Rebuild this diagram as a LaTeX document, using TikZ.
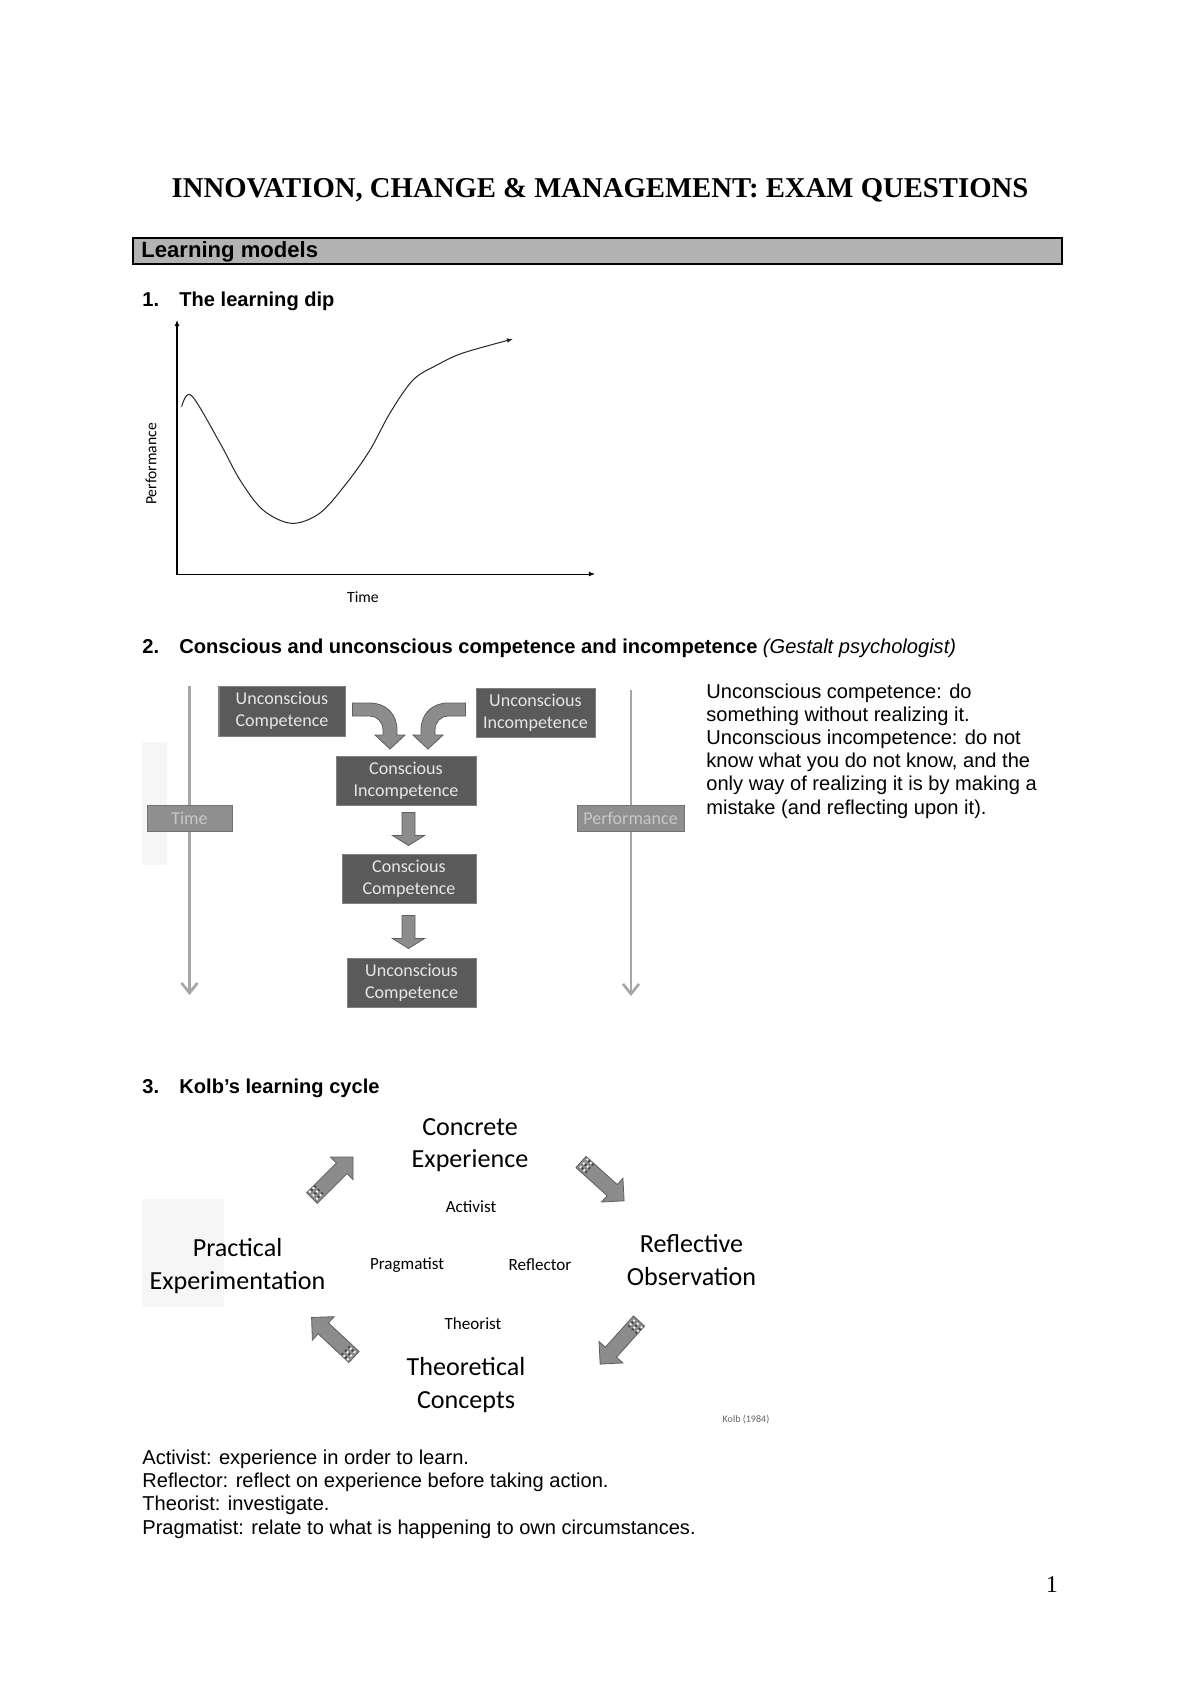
\documentclass[tikz,border=0pt]{standalone}
\usepackage{fontspec}
\setmainfont{Liberation Sans}
\newfontfamily\calibri{Carlito}
\newfontfamily\cambria{Liberation Serif}
\usetikzlibrary{arrows.meta, calc, positioning}
\newlength{\pxu}\setlength{\pxu}{0.0175cm}
\definecolor{headgray}{HTML}{B3B3B3}
\definecolor{boxgray}{HTML}{5A5A5A}
\definecolor{boxtext}{HTML}{E6E6E6}
\definecolor{boxedge}{HTML}{808080}
\definecolor{arrowgray}{HTML}{8C8C8C}
\definecolor{arrowedge}{HTML}{5E5E5E}
\definecolor{linegray}{HTML}{A6A6A6}
\definecolor{labelgray}{HTML}{8F8F8F}
\definecolor{labeltext}{HTML}{C8C8C8}
\definecolor{faint}{HTML}{F6F6F6}
\tikzset{kolbarrow/.pic={
    \filldraw[fill=arrowgray, draw=arrowedge, line width=0.4pt]
      (0,-7.5) -- (42,-7.5) -- (42,-16) -- (58,0) -- (42,16) -- (42,7.5) -- (0,7.5) -- cycle;
    \draw[white, line width=0.7pt, dash pattern=on 1pt off 1.5pt] (3,-7) -- (3,7) (8,-7) -- (8,7);
    \draw[black!75, line width=0.7pt, dash pattern=on 1.2pt off 1.2pt] (5.5,-7) -- (5.5,7) (10.5,-7) -- (10.5,7);
}}

\begin{document}
\begin{tikzpicture}[x=0.0175cm, y=-0.0175cm, font=\fontsize{10}{11.5}\selectfont,
    every node/.style={inner sep=0pt},
    darkbox/.style={draw=boxedge, line width=0.5pt, fill=boxgray, text=boxtext, align=center,
      font=\calibri\fontsize{9}{11}\selectfont},
    tag/.style={draw=black!55, line width=0.4pt, fill=labelgray, text=labeltext,
      minimum height=26\pxu, font=\calibri\fontsize{9}{11}\selectfont},
    timeline/.style={draw=linegray, line width=1.3pt, -{Straight Barb[length=5pt,width=8pt]}},
    blockarrow/.style={fill=arrowgray, draw=arrowedge, line width=0.4pt},
    axis/.style={line width=0.5pt, {Latex[length=3pt,width=2.4pt]}-{Latex[length=3pt,width=2.4pt]}},
    kolb/.style={align=center, font=\calibri\fontsize{13}{16.2}\selectfont},
    role/.style={font=\calibri\fontsize{8.5}{10}\selectfont}]
    \path[use as bounding box, fill=white] (0,0) rectangle (1200,1698);

    % title and section bar
    \node[anchor=base, font=\cambria\bfseries\fontsize{14.3}{17}\selectfont] (title) at (600,197)
      {INNOVATION, CHANGE \& MANAGEMENT: EXAM QUESTIONS};
    \node[draw, line width=1.2pt, fill=headgray, anchor=north west,
      minimum width=929\pxu, minimum height=26\pxu] (bar) at (132,237) {};
    \node[anchor=base west, font=\bfseries\fontsize{11}{13}\selectfont] (bartext) at (141,257) {Learning models};

    % 1. learning dip
    \node[anchor=base west, font=\bfseries] (num1) at (142,306) {1.};
    \node[anchor=base west, font=\bfseries] (head1) at (179,306) {The learning dip};
    \coordinate (ytop) at (177,320);
    \coordinate (origin) at (177,574);
    \coordinate (xend) at (595,574);
    \draw[axis] (ytop) -- (origin) -- (xend);
    \draw[line width=0.5pt, black!85, -{Latex[length=3pt,width=2.4pt]}] plot[smooth, tension=0.55] coordinates
      {(181.7,406.7) (191.5,395.5) (220,443) (240,480) (263,510) (291.7,523.3) (320,513)
       (346.7,483) (370,450) (390,413) (413,380) (437,365) (463,353) (513,339)};
    \node[font=\calibri\fontsize{7.8}{9}\selectfont] (timelab) at (363,597) {Time};
    \node[rotate=90, font=\calibri\fontsize{7.8}{9}\selectfont] (perflab) at (151,464) {Performance};

    % 2. competence
    \node[anchor=base west, font=\bfseries] (num2) at (142,653.5) {2.};
    \node[anchor=base west] (head2) at (179,653.5)
      {\textbf{Conscious and unconscious competence and incompetence} \textit{(Gestalt psychologist)}};
    \fill[faint] (142,742) rectangle (167,865);
    \coordinate (tA) at (189.5,686);
    \coordinate (tB) at (189.5,995);
    \coordinate (pA) at (631,690);
    \coordinate (pB) at (631,996);
    \draw[timeline] (tA) -- (tB);
    \draw[timeline] (pA) -- (pB);
    \node[tag, minimum width=85\pxu] (time) at (189.5,818) {Time};
    \node[tag, minimum width=107\pxu] (perf) at (630.5,818) {Performance};

    \node[darkbox, minimum width=126\pxu, minimum height=50\pxu] (ucA) at (282,711) {Unconscious\\Competence};
    \node[darkbox, minimum width=119\pxu, minimum height=49\pxu] (uiA) at (535.5,712.5) {Unconscious\\Incompetence};
    \node[darkbox, minimum width=140\pxu, minimum height=49\pxu] (ci) at (406,780.5) {Conscious\\Incompetence};
    \node[darkbox, minimum width=134\pxu, minimum height=49\pxu] (cc) at (409,878.5) {Conscious\\Competence};
    \node[darkbox, minimum width=129\pxu, minimum height=49\pxu] (ucB) at (411.5,982.5) {Unconscious\\Competence};

    \draw[blockarrow] ($(ucA.east)+(7,-8)$) -- (370,703) .. controls (386,703) and (397,714) .. (397,730)
      -- (397,735) -- (405,735) -- (390,749) -- (375,735) -- (383,735) -- (383,730)
      .. controls (383,722) and (377,716) .. (370,716) -- ($(ucA.east)+(7,5)$) -- cycle;
    \draw[blockarrow] ($(uiA.west)+(-10,-9.5)$) -- (448,703) .. controls (432,703) and (421,714) .. (421,730)
      -- (421,735) -- (413,735) -- (428,749) -- (443,735) -- (435,735) -- (435,730)
      .. controls (435,722) and (441,716) .. (448,716) -- ($(uiA.west)+(-10,3.5)$) -- cycle;
    \draw[blockarrow] ($(ci.south)+(-4,7)$) -- ++(13,0) -- ++(0,23) -- ++(9.5,0) -- ++(-16,10)
      -- ++(-16,-10) -- ++(9.5,0) -- cycle;
    \draw[blockarrow] ($(cc.south)+(-7,12)$) -- ++(13,0) -- ++(0,23) -- ++(9.5,0) -- ++(-16,10)
      -- ++(-16,-10) -- ++(9.5,0) -- cycle;

    % multi-line notes: base is the last line
    \node[anchor=base west, align=left] (compnote) at (706,814)
      {Unconscious competence: do\\something without realizing it.\\Unconscious incompetence: do not\\know what you do not know, and the\\only way of realizing it is by making a\\mistake (and reflecting upon it).};

    % 3. Kolb
    \node[anchor=base west, font=\bfseries] (num3) at (142,1093) {3.};
    \node[anchor=base west, font=\bfseries] (head3) at (179,1093) {Kolb’s learning cycle};
    \fill[faint] (142,1199) rectangle (224,1307);
    \node[kolb] (ce) at (470,1145) {Concrete\\Experience};
    \node[kolb] (ro) at (691.5,1260) {Reflective\\Observation};
    \node[kolb] (tc) at (466,1385) {Theoretical\\Concepts};
    \node[kolb] (pe) at (237.5,1266) {Practical\\Experimentation};
    \node[role] (activist) at (471,1207) {Activist};
    \node[role] (pragmatist) at (407,1265) {Pragmatist};
    \node[role] (reflector) at (540,1265) {Reflector};
    \node[role] (theorist) at (473,1324) {Theorist};
    \node[font=\calibri\fontsize{5}{6}\selectfont, text=black!60] (source) at (746,1420) {Kolb (1984)};
    \pic[rotate=45] at (312,1198) {kolbarrow};
    \pic[rotate=-42] at (581,1162) {kolbarrow};
    \pic[rotate=-132] at (639,1321) {kolbarrow};
    \pic[rotate=137] at (354,1357) {kolbarrow};

    \node[anchor=base west, align=left] (kolbnote) at (142,1534)
      {Activist: experience in order to learn.\\Reflector: reflect on experience before taking action.\\Theorist: investigate.\\Pragmatist: relate to what is happening to own circumstances.};
    \node[anchor=base, font=\cambria\fontsize{12}{14}\selectfont] (pageno) at (1052,1592) {1};
\end{tikzpicture}
\end{document}
